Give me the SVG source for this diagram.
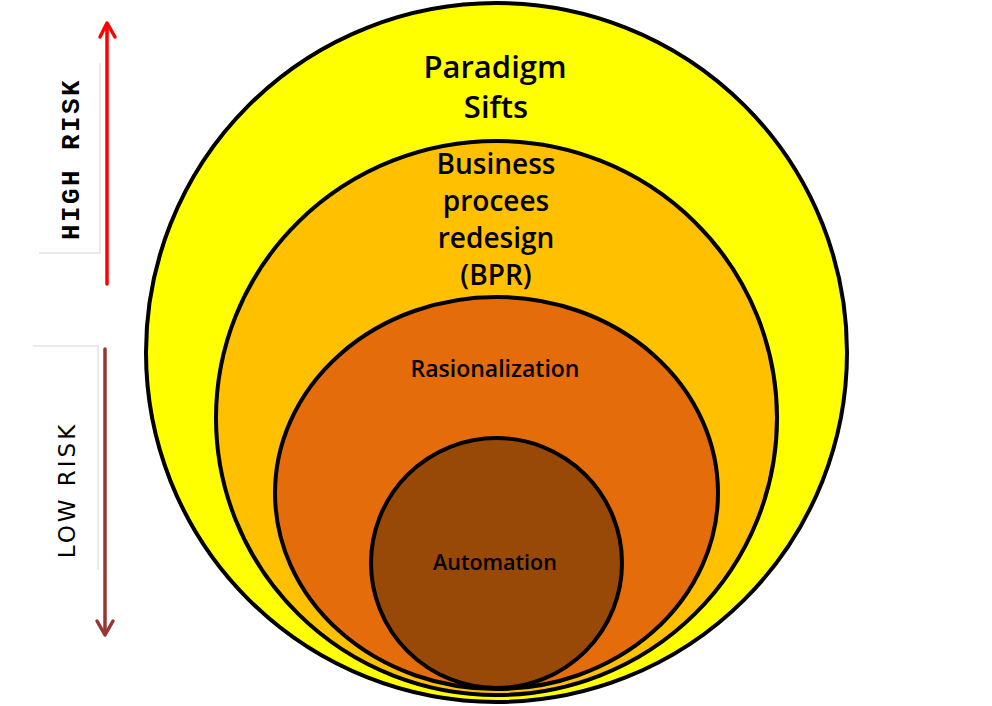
<svg xmlns="http://www.w3.org/2000/svg" width="992" height="706" viewBox="0 0 992 706">
<style>
.ring{stroke:#000;stroke-width:4}
.lbl{font-family:"Open Sans","DejaVu Sans",sans-serif;font-weight:600;fill:#000;text-anchor:middle}
.side{fill:#000;text-anchor:middle}
.box{fill:none;stroke:#e4e4e4;stroke-width:1.5}
</style>
<rect width="992" height="706" fill="#fff"/>
<g id="connectors">
<polyline class="box" points="39,253 100,253 100,63"/>
<polyline class="box" points="33,346 98,346 98,570"/>
<g id="high-risk-arrow" fill="none" stroke="#ff0000" stroke-width="3.5" stroke-linecap="round" stroke-linejoin="round">
<line x1="107" y1="284" x2="107" y2="24"/>
<polyline points="100,37 107,23 115,37"/>
</g>
<g id="low-risk-arrow" fill="none" stroke="#953735" stroke-width="3.5" stroke-linecap="round" stroke-linejoin="round">
<line x1="105" y1="349" x2="105" y2="634"/>
<polyline points="97,621 105,635 113,621"/>
</g>
</g>
<g id="paradigm-shifts">
<ellipse class="ring" cx="496.5" cy="352.5" rx="350.5" ry="349.5" fill="#ffff00"/>
<text class="lbl" x="495" y="78" font-size="31">Paradigm</text>
<text class="lbl" x="496" y="118" font-size="31">Sifts</text>
</g>
<g id="bpr">
<ellipse class="ring" cx="496.5" cy="418" rx="280.5" ry="277" fill="#ffc000"/>
<text class="lbl" x="496" y="174" font-size="28">Business</text>
<text class="lbl" x="496" y="211" font-size="28">procees</text>
<text class="lbl" x="496" y="248" font-size="28">redesign</text>
<text class="lbl" x="496" y="285" font-size="28">(BPR)</text>
</g>
<g id="rationalization">
<ellipse class="ring" cx="496.5" cy="493" rx="221.5" ry="196" fill="#e46c0a"/>
<text class="lbl" x="495" y="377" font-size="23">Rasionalization</text>
</g>
<g id="automation">
<ellipse class="ring" cx="496.5" cy="563" rx="125.5" ry="125" fill="#984807"/>
<text class="lbl" x="495" y="570" font-size="21.5">Automation</text>
</g>
<g id="high-risk-label">
<text class="side" transform="translate(79,159) rotate(-90)" font-family="Liberation Mono,monospace" font-weight="bold" font-size="26" letter-spacing="2.4">HIGH RISK</text>
</g>
<g id="low-risk-label">
<text class="side" transform="translate(75,490) rotate(-90)" font-family="DejaVu Sans,sans-serif" font-size="23" letter-spacing="3">LOW RISK</text>
</g>
</svg>
